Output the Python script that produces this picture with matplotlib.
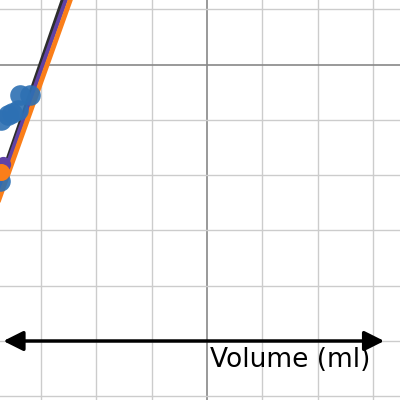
import matplotlib
matplotlib.use("Agg")
import matplotlib.pyplot as plt
import numpy as np

# data (graph units)
blue_x = [-3.2, -3.38, -3.52, -3.41, -3.6, -3.73, -3.74]
blue_y = [4.45, 4.45, 4.12, 4.18, 4.08, 4.0, 2.9]
orange_pt = (-3.72, 3.05)
purple_pt = (-3.68, 3.2)
black_line = ([-3.8, -2.4], [2.7, 6.75])
purple_line = ([-3.8, -2.4], [2.65, 6.6])
orange_line = ([-3.8, -2.3], [2.45, 6.65])

fig = plt.figure(figsize=(4, 4), dpi=100)
ax = fig.add_axes([0, 0, 1, 1])
u = 55.3
ax.set_xlim(-207 / u, (400 - 207) / u)
ax.set_ylim((341 - 400) / u, 341 / u)
for g in np.arange(-4, 4):
    ax.axvline(g, color='#cccccc' if g != 0 else '#888888', lw=1 if g else 1.2, zorder=0)
for g in np.arange(-1, 8):
    ax.axhline(g, color='#cccccc' if g != 5 else '#888888', lw=1 if g != 5 else 1.2, zorder=0)
ax.annotate('', xy=(ax.get_xlim()[0] + 0.01, 0), xytext=(387 / u - 207 / u, 0),
            arrowprops=dict(arrowstyle='<|-|>', color='black', lw=2.5, mutation_scale=30))
ax.plot(*black_line, color='#2d2d2d', lw=3.5, zorder=3)
ax.plot(*purple_line, color='#6042a6', lw=3, zorder=3)
ax.plot(*orange_line, color='#fa7e19', lw=3.5, zorder=4)
ax.scatter(blue_x, blue_y, s=220, color='#2d70b3', alpha=0.9, zorder=5, lw=0)
ax.scatter(*purple_pt, s=120, color='#6042a6', zorder=5, lw=0)
ax.scatter(*orange_pt, s=150, color='#fa7e19', zorder=6, lw=0)
ax.text(370 / u - 207 / u, (341 - 360) / u, 'Volume (ml)', fontsize=19, ha='right', va='center')
ax.axis('off')
fig.savefig('out.png', dpi=100)
